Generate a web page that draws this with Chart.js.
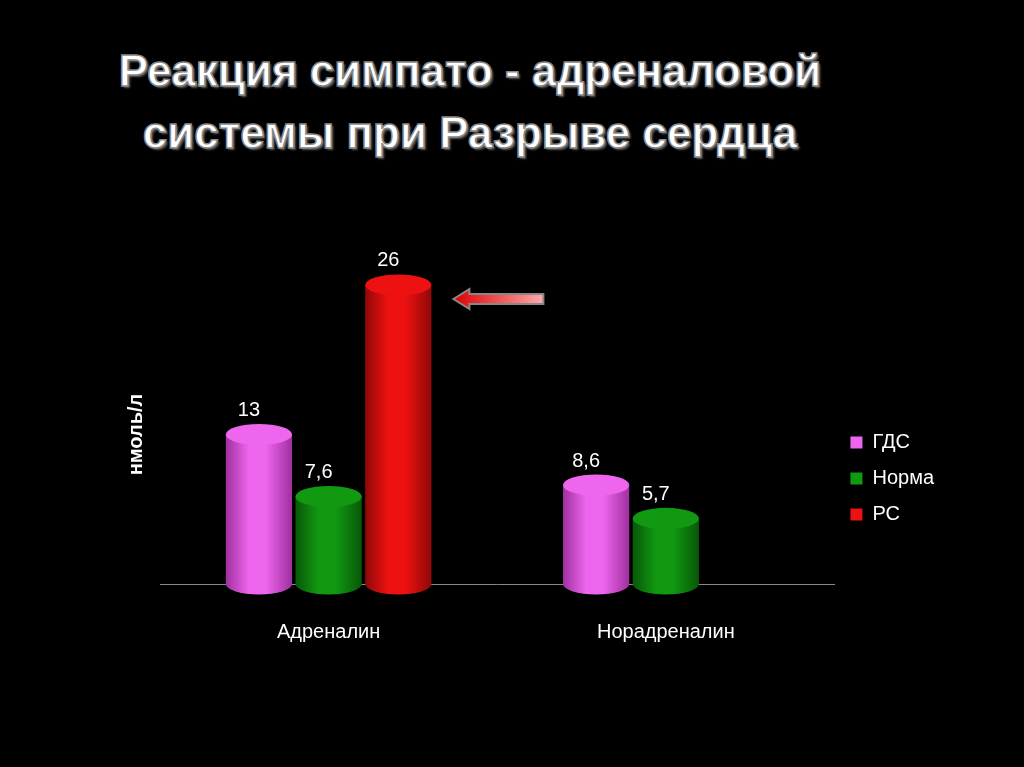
<!DOCTYPE html>
<html>
<head>
<meta charset="utf-8">
<script src="https://cdn.jsdelivr.net/npm/chart.js@4/dist/chart.umd.min.js"></script>
<style>
  html, body { margin: 0; background: #000; }
  #wrap { position: relative; width: 1024px; height: 767px; }
  h1 {
    position: absolute; left: 0; top: 40px; width: 940px; margin: 0;
    text-align: center; font: bold 44px "Liberation Sans", Arial, sans-serif;
    color: #fff; line-height: 62px; -webkit-text-stroke: 1.5px #888;
    text-shadow: 2px 2px 2px #555;
  }
  canvas { position: absolute; left: 0; top: 0; }
</style>
</head>
<body>
<div id="wrap">
  <h1>Реакция симпато - адреналовой<br>системы при Разрыве сердца</h1>
  <canvas id="c" width="1024" height="767"></canvas>
</div>
<script>
const categories = ["Адреналин", "Норадреналин"]
const seriesNames = ["ГДС", "Норма", "РС"]
const gds = [13, 8.6]
const norma = [7.6, 5.7]
const rs = [26, null]
const colors = ["#ee66ee", "#119911", "#ee1111"]
const darks = ["#a030a0", "#085808", "#900808"]

// cylinders drawn over the bar rects
const cylinders = {
  id: "cylinders",
  afterDatasetsDraw(chart) {
    const ctx = chart.ctx
    chart.data.datasets.forEach((ds, di) => {
      chart.getDatasetMeta(di).data.forEach((bar, i) => {
        if (ds.data[i] == null) return
        const w = bar.width, x0 = bar.x - w / 2, top = bar.y, bottom = bar.base
        const ry = w * 0.16
        const g = ctx.createLinearGradient(x0, 0, x0 + w, 0)
        g.addColorStop(0, darks[di]); g.addColorStop(0.35, colors[di])
        g.addColorStop(0.6, colors[di]); g.addColorStop(1, darks[di])
        ctx.save()
        ctx.fillStyle = g
        ctx.beginPath()
        ctx.moveTo(x0, top)
        ctx.lineTo(x0, bottom)
        ctx.ellipse(bar.x, bottom, w / 2, ry, 0, Math.PI, 0, true)
        ctx.lineTo(x0 + w, top)
        ctx.closePath()
        ctx.fill()
        ctx.fillStyle = colors[di]
        ctx.beginPath()
        ctx.ellipse(bar.x, top, w / 2, ry, 0, 0, Math.PI * 2)
        ctx.fill()
        ctx.fillStyle = "#fff"
        ctx.font = "20px 'Liberation Sans', Arial, sans-serif"
        ctx.textAlign = "center"
        ctx.fillText(String(ds.data[i]).replace(".", ","), bar.x - 10, top - ry - 8)
        if (di === 2) {
          // red arrow pointing at the РС bar
          const ax = bar.x + w / 2 + 22, ay = top + 14
          const ag = ctx.createLinearGradient(ax, 0, ax + 90, 0)
          ag.addColorStop(0, "#dd0000"); ag.addColorStop(1, "#ffaaaa")
          ctx.fillStyle = ag
          ctx.strokeStyle = "#888"
          ctx.lineWidth = 2
          ctx.beginPath()
          ctx.moveTo(ax, ay)
          ctx.lineTo(ax + 16, ay - 10)
          ctx.lineTo(ax + 16, ay - 5)
          ctx.lineTo(ax + 90, ay - 5)
          ctx.lineTo(ax + 90, ay + 5)
          ctx.lineTo(ax + 16, ay + 5)
          ctx.lineTo(ax + 16, ay + 10)
          ctx.closePath()
          ctx.fill(); ctx.stroke()
        }
        ctx.restore()
      })
    })
  }
}

new Chart(document.getElementById("c"), {
  type: "bar",
  data: {
    labels: categories,
    datasets: [
      { label: seriesNames[0], data: gds, backgroundColor: "rgba(0,0,0,0)" },
      { label: seriesNames[1], data: norma, backgroundColor: "rgba(0,0,0,0)" },
      { label: seriesNames[2], data: rs, backgroundColor: "rgba(0,0,0,0)" }
    ]
  },
  options: {
    responsive: false,
    animation: false,
    layout: { padding: { left: 120, right: 80, top: 285, bottom: 95 } },
    categoryPercentage: 0.62,
    barPercentage: 0.95,
    scales: {
      x: {
        grid: { display: false },
        border: { color: "#888" },
        ticks: { color: "#fff", font: { size: 20, family: "Liberation Sans" }, padding: 28 }
      },
      y: {
        min: 0, max: 26,
        grid: { display: false },
        border: { display: false },
        ticks: { display: false },
        title: { display: true, text: "нмоль/л", color: "#fff", font: { size: 20, weight: "bold", family: "Liberation Sans" } }
      }
    },
    plugins: {
      legend: {
        position: "right",
        labels: {
          color: "#fff", boxWidth: 12, boxHeight: 12, padding: 16,
          font: { size: 20, family: "Liberation Sans" },
          generateLabels: (chart) => seriesNames.map((n, i) => ({
            text: n, fillStyle: colors[i], strokeStyle: colors[i], lineWidth: 0, fontColor: "#fff", datasetIndex: i
          }))
        }
      },
      tooltip: { enabled: false }
    }
  },
  plugins: [cylinders]
})
</script>
</body>
</html>
